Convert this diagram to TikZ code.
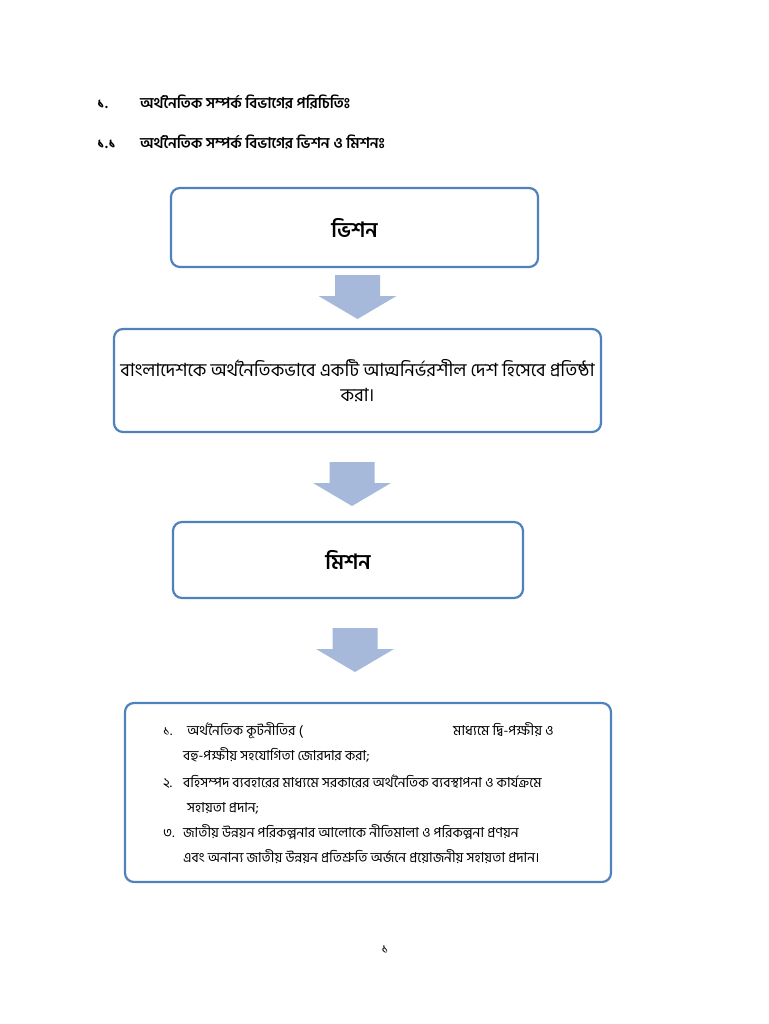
\documentclass[tikz,border=0pt]{standalone}
\usepackage{fontspec}
\newfontfamily\bangla[Script=Bengali]{Hind Siliguri}
\usepackage{tikz}
\definecolor{boxblue}{RGB}{79,129,189}
\definecolor{arrowblue}{RGB}{167,185,219}
\tikzset{
    common/.style={draw=boxblue, line width=2.2pt, rounded corners=9pt, rectangle, inner sep=0pt},
    headbox/.style={common, font=\bangla\bfseries\fontsize{21}{25}\selectfont},
    textbox/.style={common, align=center, font=\bangla\fontsize{18.2}{25}\selectfont},
    listbox/.style={common},
    bnline/.style={anchor=base west, inner sep=0pt, font=\bangla\fontsize{13.8}{16}\selectfont},
    bnhead/.style={bnline, font=\bangla\bfseries\fontsize{15}{18}\selectfont},
    blockarrow/.pic={
        \fill[arrowblue] (-22.5,0) -- (22.5,0) -- (22.5,21) -- (39,21)
            -- (0,44) -- (-39,21) -- (-22.5,21) -- cycle;
    }
}
\begin{document}
\begin{tikzpicture}[x=1pt, y=-1pt]
    \useasboundingbox[fill=white] (0,0) rectangle (768,1024);

    % headings
    \node[bnhead] (n1) at (97,109) {১.};
    \node[bnhead] (h1) at (140,109) {অর্থনৈতিক সম্পর্ক বিভাগের পরিচিতিঃ};
    \node[bnhead] (n11) at (97,149) {১.১};
    \node[bnhead] (h11) at (140,149) {অর্থনৈতিক সম্পর্ক বিভাগের ভিশন ও মিশনঃ};

    % boxes
    \node[headbox, minimum width=367, minimum height=79] (vision) at (354.5,227.5) {ভিশন};
    \node[textbox, minimum width=487, minimum height=103] (goal) at (357.5,380.5)
        {বাংলাদেশকে অর্থনৈতিকভাবে একটি আত্মনির্ভরশীল দেশ হিসেবে প্রতিষ্ঠা\\করা।};
    \node[headbox, minimum width=350, minimum height=76] (mission) at (348,560) {মিশন};
    \node[listbox, minimum width=486, minimum height=179] (tasks) at (368,792.5) {};

    % arrows
    \pic at (357.5,275) {blockarrow};
    \pic at (352,462) {blockarrow};
    \pic at (355,628) {blockarrow};

    % list
    \node[bnline] (i1) at (163,735) {১.};
    \node[bnline] (t1a) at (187,735) {অর্থনৈতিক কূটনীতির (};
    \node[bnline] (t1b) at (453,735) {মাধ্যমে দ্বি-পক্ষীয় ও};
    \node[bnline] (t1c) at (183,760) {বহু-পক্ষীয় সহযোগিতা জোরদার করা;};
    \node[bnline] (i2) at (163,787) {২.};
    \node[bnline] (t2a) at (183,787) {বহিসম্পদ ব্যবহারের মাধ্যমে সরকারের অর্থনৈতিক ব্যবস্থাপনা ও কার্যক্রমে};
    \node[bnline] (t2b) at (187,812) {সহায়তা প্রদান;};
    \node[bnline] (i3) at (163,837) {৩.};
    \node[bnline] (t3a) at (183,837) {জাতীয় উন্নয়ন পরিকল্পনার আলোকে নীতিমালা ও পরিকল্পনা প্রণয়ন};
    \node[bnline] (t3b) at (183,862) {এবং অনান্য জাতীয় উন্নয়ন প্রতিশ্রুতি অর্জনে প্রয়োজনীয় সহায়তা প্রদান।};

    % page number
    \node[bnline, anchor=base] (page) at (385,953) {১};
\end{tikzpicture}
\end{document}
